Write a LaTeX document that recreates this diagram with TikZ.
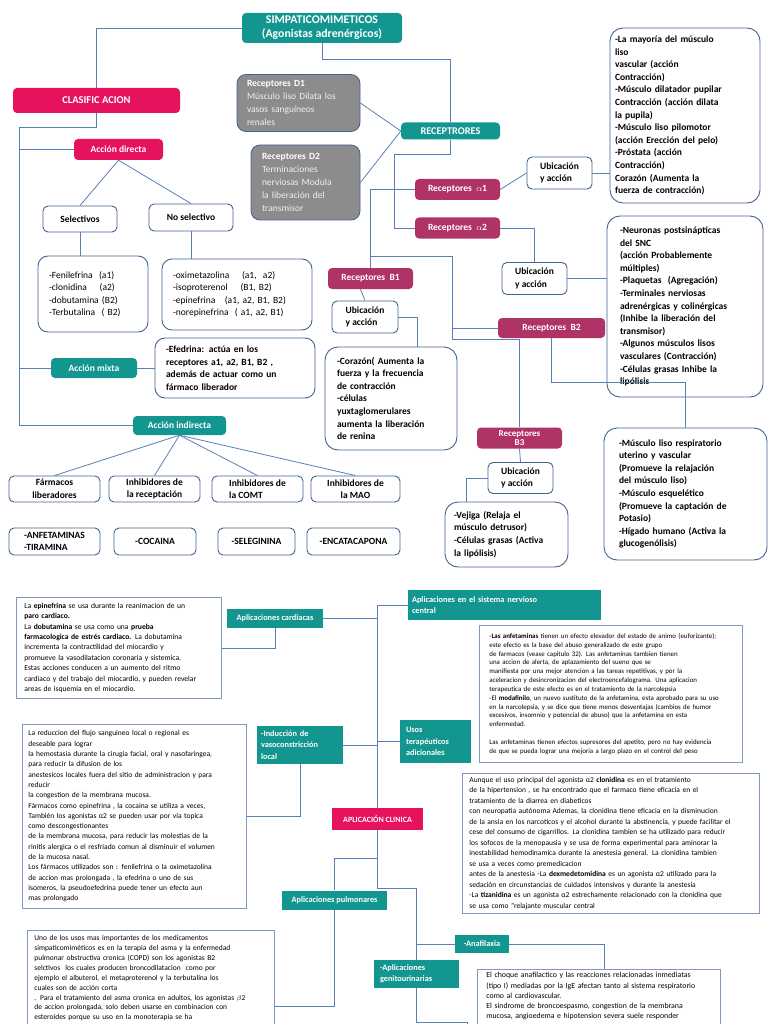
\documentclass[tikz,border=0pt]{standalone}
\usepackage{fontspec}
\setmainfont{Carlito}
\usetikzlibrary{positioning}

\definecolor{verdeazul}{HTML}{13968F}
\definecolor{rosa}{HTML}{E6125E}
\definecolor{morado}{HTML}{B03368}
\definecolor{gris}{HTML}{8C8C8C}
\definecolor{borde}{HTML}{42638F}
\definecolor{azullinea}{HTML}{5A7FB6}
\definecolor{bordetxt}{HTML}{7F98C3}

\begin{document}
\begin{tikzpicture}[x=1pt, y=-1pt,
		tam/.style 2 args={minimum width=#1pt, minimum height=#2pt},
		ancho/.style 2 args={text width=#1pt, minimum height=#2pt},
		cajaverde/.style={rectangle, rounded corners=4pt, fill=verdeazul, text=white, inner sep=1pt, align=center,
			font=\bfseries\fontsize{9.5}{11}\selectfont},
		cajarosa/.style={cajaverde, fill=rosa},
		cajamorada/.style={cajaverde, fill=morado},
		cajagris/.style={rectangle, rounded corners=9pt, fill=gris, draw=borde, line width=0.8pt, align=left,
			text=white!88!gris, font=\fontsize{9.5}{12.9}\selectfont},
		cajablanca/.style={rectangle, rounded corners=5pt, draw=borde, line width=0.9pt, fill=white, inner sep=1pt,
			align=center, font=\bfseries\fontsize{9.5}{12.6}\selectfont},
		cajagrande/.style={cajablanca, rounded corners=13pt, align=left},
		etiqueta/.style={rectangle, fill=verdeazul, text=white, inner xsep=4pt, inner ysep=1pt, align=left,
			font=\bfseries\fontsize{8.3}{11.2}\selectfont},
		textobox/.style={rectangle, draw=bordetxt, line width=0.8pt, fill=white, anchor=north west, align=left},
		conector/.style={draw=azullinea, line width=0.8pt},
		>=latex]
	% Bildbereich
	\useasboundingbox (0,0) rectangle (768,1024);
	\clip (0,0) rectangle (768,1024);

	% Titulo y clasificacion
	\node[cajaverde, tam={160}{30}, font=\bfseries\fontsize{11.8}{14}\selectfont] (simpa) at (322,28) {SIMPATICOMIMETICOS\\(Agonistas adrenérgicos)};
	\node[cajarosa, tam={167}{25}, font=\bfseries\fontsize{10.5}{12}\selectfont] (clasif) at (96.5,100.5) {CLASIFIC ACION};
	\node[cajarosa, tam={89}{21}] (directa) at (118.5,149.5) {Acción directa};
	\node[cajablanca, tam={74}{26}] (selec) at (80,219) {Selectivos};
	\node[cajablanca, tam={84}{27}] (noselec) at (191,217.5) {No selectivo};
	\node[cajagrande, rounded corners=10pt, inner xsep=11pt, ancho={88}{76}, font=\fontsize{9.5}{12.5}\selectfont] (fenil) at (93,294)
		{-Fenilefrina~ (a1)\\-clonidina \quad (a2)\\-dobutamina (B2)\\-Terbutalina~ ( B2)};
	\node[cajagrande, rounded corners=10pt, inner xsep=11pt, ancho={128}{71}, font=\fontsize{9.5}{12.5}\selectfont] (noselecl) at (237,294.5)
		{-oximetazolina \quad (a1,~ a2)\\-isoproterenol \quad (B1, B2)\\-epinefrina~ ~(a1, a2, B1, B2)\\-norepinefrina~ ( a1, a2, B1)};
	\node[cajaverde, tam={86}{20}] (mixta) at (94,368) {Acción mixta};
	\node[cajagrande, rounded corners=10pt, inner xsep=11pt, ancho={138}{60}] (efedr) at (235,368)
		{-Efedrina: actúa en los\\receptores a1, a2, B1, B2 ,\\además de actuar como un\\fármaco liberador};
	\node[cajaverde, tam={93}{19}] (indir) at (179.5,425.5) {Acción indirecta};

	% Accion indirecta
	\node[cajablanca, tam={91}{26}] (lib) at (54.5,489) {Fármacos\\liberadores};
	\node[cajablanca, tam={91}{26}] (recap) at (154.5,489) {Inhibidores de\\la receptación};
	\node[cajablanca, tam={91}{26}, align=left] (comt) at (257.5,489) {Inhibidores de\\la COMT};
	\node[cajablanca, tam={89}{26}] (mao) at (355.5,489) {Inhibidores de\\la MAO};
	\foreach \nom/\cx/\an/\txt in {anfe/54.5/91/{-ANFETAMINAS\\-TIRAMINA}, coca/155/82/{-COCAINA}, sele/256.5/77/{-SELEGININA}, enca/353.5/93/{-ENCATACAPONA}}
		\node[cajablanca, tam={\an}{27}, align=left] (\nom) at (\cx,541.5) {\txt};

	% Receptores
	\node[cajagris, inner xsep=10pt, ancho={103}{57}] (d1) at (298.5,103)
		{\textcolor{white}{\textbf{Receptores D1}}\\Músculo liso Dilata los\\vasos sanguíneos\\renales};
	\node[cajagris, inner xsep=11pt, ancho={87}{75}] (d2) at (305.5,182.5)
		{\textcolor{white}{\textbf{Receptores D2}}\\Terminaciones\\nerviosas Modula\\la liberación del\\transmisor};
	\node[cajaverde, tam={99}{17}, font=\bfseries\fontsize{10.3}{11}\selectfont] (recep) at (450.5,131) {RECEPTRORES};
	\node[cajamorada, tam={85}{21}] (a1) at (457.5,189.5) {Receptores~ $\alpha$1};
	\node[cajablanca, tam={65}{32}, align=left] (ubi1) at (559.5,173) {Ubicación\\y acción};
	\node[cajagrande, inner xsep=5pt, ancho={140}{175}] (a1box) at (685,115.5)
		{-La mayoría del músculo\\liso\\vascular (acción\\Contracción)\\-Músculo dilatador pupilar\\Contracción (acción dilata\\la pupila)\\-Músculo liso pilomotor\\(acción Erección del pelo)\\-Próstata (acción\\Contracción)\\Corazón (Aumenta la\\fuerza de contracción)};
	\node[cajamorada, tam={85}{21}] (a2) at (457.5,228) {Receptores~ $\alpha$2};
	\node[cajablanca, tam={65}{32}, align=left] (ubi2) at (534.5,278.5) {Ubicación\\y acción};
	\node[cajagrande, inner xsep=13pt, ancho={130}{181}] (a2box) at (685,306.5)
		{-Neuronas postsinápticas\\del SNC\\(acción Probablemente\\múltiples)\\-Plaquetas~ (Agregación)\\-Terminales nerviosas\\adrenérgicas y colinérgicas\\(Inhibe la liberación del\\transmisor)\\-Algunos músculos lisos\\vasculares (Contracción)\\-Células grasas Inhibe la\\lipólisis};
	\node[cajamorada, tam={85}{21}] (b1) at (370.5,278.5) {Receptores~ B1};
	\node[cajablanca, tam={66}{32}, align=left] (ubi3) at (365,317) {Ubicación\\y acción};
	\node[cajagrande, inner xsep=12pt, ancho={108}{103}] (b1box) at (391,398.5)
		{-Corazón( Aumenta la\\fuerza y la frecuencia\\de contracción\\-células\\yuxtaglomerulares\\aumenta la liberación\\de renina};
	\node[cajamorada, tam={107}{20}] (b2) at (551.5,328) {Receptores~ B2};
	\node[cajagrande, inner xsep=15pt, ancho={133}{132}] (b2box) at (685.5,494)
		{-Músculo liso respiratorio\\uterino y vascular\\(Promueve la relajación\\del músculo liso)\\-Músculo esquelético\\(Promueve la captación de\\Potasio)\\-Hígado humano (Activa la\\glucogenólisis)};
	\node[cajamorada, tam={85}{21}, inner sep=0pt, font=\bfseries\fontsize{9}{9.5}\selectfont] (b3) at (519.5,438) {Receptores\\B3};
	\node[cajablanca, tam={65}{31}, align=left] (ubi4) at (520.5,478) {Ubicación\\y acción};
	\node[cajagrande, inner xsep=9pt, ancho={105}{65}] (b3box) at (506.5,534.5)
		{-Vejiga (Relaja el\\músculo detrusor)\\-Células grasas (Activa\\la lipólisis)};

	% Verbindungen oben
	\draw[conector] (simpa.west) -| (clasif.north);
	\draw[conector] (simpa.south) -- ++(0,16) -| (recep.north);
	\draw[conector] (d1.east) -- (recep.west);
	\draw[conector] (d2.east) -- (recep.west);
	\draw[conector] (recep.south) -- ++(0,15) -| ([xshift=-20pt]a2.west) -- (a2.west);
	\draw[conector] (a1.west) -| (b1.north);
	\draw[conector] ([yshift=11pt]b1.north) -- ++(81.5,0) -- ++(0,83) -| (b3.north);
	\draw[conector] (b2.west) -- ++(-46,0);
	\draw[conector] (a1.east) -- (ubi1.west);
	\draw[conector] (ubi1.east) -- (ubi1.east -| a1box.west);
	\draw[conector] (a2.east) -| (ubi2.north);
	\draw[conector] (ubi2.east) -- (ubi2.east -| a2box.west);
	\draw[conector] ([xshift=-10pt]b1.south) -- (ubi3.north);
	\draw[conector] (ubi3.east) -| ([xshift=26pt]b1box.north);
	\draw[conector] (b2.south) -- ++(0,44) -| (b2box.north);
	\draw[conector] (b3.south) -- (ubi4.north);
	\draw[conector] (ubi4.west) -| ([xshift=-40pt]b3box.north);
	\draw[conector] (clasif.south) -- ++(0,14) -| ([xshift=-113pt]indir.west) -- (indir.west);
	\draw[conector] (directa.west) -- ++(-54,0);
	\draw[conector] (mixta.west) -- ++(-31,0);
	\draw[conector] (directa.south) -- (selec.north);
	\draw[conector] (directa.south) -- (noselec.north);
	\draw[conector] (selec.south) -- (selec.south |- fenil.north);
	\draw[conector] (noselec.south) -- (noselec.south |- noselecl.north);
	\draw[conector] (mixta.east) -- (efedr.west);
	\foreach \nom in {lib,recap,comt,mao} \draw[conector] (indir.south) -- (\nom.north);

	% Aplicacion clinica
	\node[etiqueta, fill=rosa, tam={91}{22}, align=center, font=\bfseries\fontsize{8}{10}\selectfont] (aplic) at (377.5,819) {APLICACIÓN CLINICA};
	\node[etiqueta, ancho={185}{30}] (snc) at (504.5,605) {Aplicaciones en el sistema nervioso\\central};
	\node[etiqueta, tam={96}{19}, align=center] (cardi) at (275,618) {Aplicaciones cardiacas};
	\node[etiqueta, ancho={78}{38}] (vaso) at (300,745) {-Inducción de\\vasoconstricción\\local};
	\node[etiqueta, inner xsep=6pt, ancho={59}{43}] (usos) at (435.5,741.5) {Usos\\terapéuticos\\adicionales};
	\node[etiqueta, tam={105}{19}, align=center] (pulm) at (334.5,900) {Aplicaciones pulmonares};
	\node[etiqueta, inner xsep=6pt, ancho={73}{28}] (genito) at (416.5,974) {-Aplicaciones\\genitourinarias};
	\node[etiqueta, tam={54}{18}, align=center] (anaf) at (482,944) {-Anafilaxia};

	\node[textobox, inner xsep=8pt, ancho={189}{101}, font=\fontsize{7.6}{10.4}\selectfont] (carditxt) at (16,597)
		{La \textbf{epinefrina} se usa durante la reanimacion de un\\\textbf{paro cardiaco.}\\La \textbf{dobutamina} se usa como una \textbf{prueba}\\\textbf{farmacologica de estrés cardiaco.} La dobutamina\\incrementa la contractilidad del miocardio y\\promueve la vasodilatacion coronaria y sistemica.\\Estas acciones conducen a un aumento del ritmo\\cardiaco y del trabajo del miocardio, y pueden revelar\\areas de isquemia en el miocardio.};
	\node[textobox, inner xsep=10pt, ancho={243}{137}, font=\fontsize{6.9}{8.85}\selectfont] (snctxt) at (479,625)
		{-\textbf{Las anfetaminas} tienen un efecto elevador del estado de animo (euforizante);\\este efecto es la base del abuso generalizado de este grupo\\de farmacos (vease capitulo 32). Las anfetaminas tambien tienen\\una accion de alerta, de aplazamiento del sueno que se\\manifiesta por una mejor atencion a las tareas repetitivas, y por la\\aceleracion y desincronizacion del electroencefalograma. Una aplicacion\\terapeutica de este efecto es en el tratamiento de la narcolepsia\\-El \textbf{modafinilo}, un nuevo sustituto de la anfetamina, esta aprobado para su uso\\en la narcolepsia, y se dice que tiene menos desventajas (cambios de humor\\excesivos, insomnio y potencial de abuso) que la anfetamina en esta\\enfermedad.\\[8.85pt] Las anfetaminas tienen efectos supresores del apetito, pero no hay evidencia\\de que se pueda lograr una mejoria a largo plazo en el control del peso};
	\node[textobox, inner xsep=6pt, ancho={212}{184}, font=\fontsize{7.5}{10.3}\selectfont] (vasotxt) at (22,724)
		{La reduccion del flujo sanguineo local o regional es\\deseable para lograr\\la hemostasia durante la cirugia facial, oral y nasofaringea,\\para reducir la difusion de los\\anestesicos locales fuera del sitio de administracion y para\\reducir\\la congestion de la membrana mucosa.\\Fármacos como epinefrina , la cocaina se utiliza a veces,\\También los agonistas α2 se pueden usar por vía topica\\como descongestionantes\\de la membrana mucosa, para reducir las molestias de la\\rinitis alergica o el resfriado comun al disminuir el volumen\\de la mucosa nasal.\\Los fármacos utilizados son : fenilefrina o la oximetazolina\\de accion mas prolongada , la efedrina o uno de sus\\isomeros, la pseudoefedrina puede tener un efecto aun\\mas prolongado};
	\node[textobox, inner xsep=7pt, ancho={283}{140}, font=\fontsize{7.5}{10.5}\selectfont] (clontxt) at (462,773)
		{Aunque el uso principal del agonista α2 \textbf{clonidina} es en el tratamiento\\de la hipertension , se ha encontrado que el farmaco tiene eficacia en el\\tratamiento de la diarrea en diabeticos\\con neuropatia autónoma Ademas, la clonidina tiene eficacia en la disminucion\\de la ansia en los narcoticos y el alcohol durante la abstinencia, y puede facilitar el\\cese del consumo de cigarrillos. La clonidina tambien se ha utilizado para reducir\\los sofocos de la menopausia y se usa de forma experimental para aminorar la\\inestabilidad hemodinamica durante la anestesia general. La clonidina tambien\\se usa a veces como premedicacion\\antes de la anestesia -La \textbf{dexmedetomidina} es un agonista α2 utilizado para la\\sedación en circunstancias de cuidados intensivos y durante la anestesia\\-La \textbf{tizanidina} es un agonista α2 estrechamente relacionado con la clonidina que\\se usa como "relajante muscular central};
	\node[textobox, inner xsep=7pt, inner ysep=5pt, text width=233pt, text depth=110pt, font=\fontsize{7.5}{9.9}\selectfont] (pulmtxt) at (27,930)
		{Uno de los usos mas importantes de los medicamentos\\simpaticomiméticos es en la terapia del asma y la enfermedad\\pulmonar obstructiva cronica (COPD) son los agonistas B2\\selctivos~ los cuales producen broncodilatacion~ como por\\ejemplo el albuterol, el metaproterenol y la terbutalina los\\cuales son de acción corta\\. Para el tratamiento del asma cronica en adultos, los agonistas $\beta$2\\de accion prolongada, solo deben usarse en combinacion con\\esteroides porque su uso en la monoterapia se ha};
	\node[textobox, inner xsep=9pt, inner ysep=3pt, text width=225pt, text depth=110pt, font=\fontsize{7.8}{10.25}\selectfont] (anaftxt) at (477,969)
		{El choque anafilactico y las reacciones relacionadas inmediatas\\(tipo I) mediadas por la IgE afectan tanto al sistema respiratorio\\como al cardiovascular.\\El sindrome de broncoespasmo, congestion de la membrana\\mucosa, angioedema e hipotension severa suele responder};

	% Verbindungen unten
	\draw[conector] (snc.west) -- (snc.west -| aplic.north) -- (aplic.north);
	\draw[conector] (cardi.east) -- (cardi.east -| aplic.north);
	\draw[conector] (vaso.east) -- (vaso.east -| aplic.north);
	\draw[conector] (usos.west) -- (usos.west -| aplic.north);
	\draw[conector] (cardi.south) |- (carditxt.east);
	\draw[conector] (vaso.south) |- (vasotxt.east);
	\draw[conector] (aplic.south) -- ++(0,58) -| (genito.north);
	\draw[conector] ([yshift=-28pt]aplic.south) -| (pulm.north);
	\draw[conector] (pulm.south) |- ([yshift=-76pt]pulmtxt.north east);
	\draw[conector] (anaf.west) -- (anaf.west -| genito.north);
	\draw[conector] (anaf.east) -| ([xshift=5pt]anaftxt.north);
	\draw[conector] (genito.south) -- ++(0,34) -- ++(51,0) -- ++(0,10);
\end{tikzpicture}
\end{document}
